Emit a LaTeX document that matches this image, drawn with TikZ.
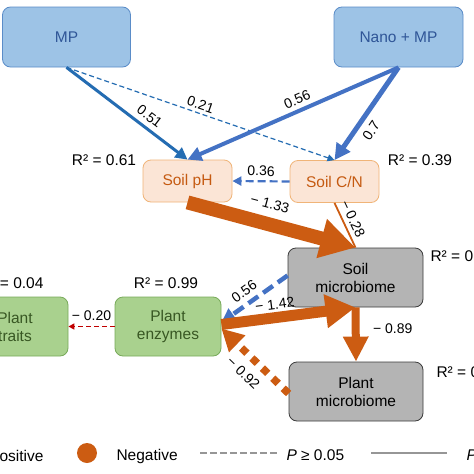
\documentclass[tikz,border=0pt]{standalone}
\usepackage{fontspec}
\setmainfont{Liberation Sans}
\usetikzlibrary{arrows.meta}
\definecolor{bluefill}{RGB}{157,195,230}
\definecolor{blueline}{RGB}{90,140,200}
\definecolor{bluetext}{RGB}{47,85,151}
\definecolor{mpblue}{RGB}{36,108,178}
\definecolor{nanoblue}{RGB}{68,114,196}
\definecolor{orangefill}{RGB}{251,229,214}
\definecolor{orangeline}{RGB}{240,180,120}
\definecolor{orangetext}{RGB}{197,90,17}
\definecolor{negorange}{RGB}{204,92,18}
\definecolor{grayfill}{RGB}{180,180,180}
\definecolor{grayline}{RGB}{60,60,60}
\definecolor{greenfill}{RGB}{169,209,142}
\definecolor{greenline}{RGB}{120,170,90}
\definecolor{greentext}{RGB}{56,87,35}
\definecolor{nsred}{RGB}{192,0,0}
\definecolor{keygray}{RGB}{150,150,150}
\begin{document}
\begin{tikzpicture}[x=1pt,y=-1pt,
        every node/.style={font=\fontsize{15.5}{18}\selectfont},
        box/.style={draw,rounded corners=8pt,align=center,inner sep=0pt,line width=0.8pt},
        bluebox/.style={box,fill=bluefill,draw=blueline,text=bluetext,minimum width=128pt,minimum height=60pt},
        orangebox/.style={box,fill=orangefill,draw=orangeline,text=orangetext,minimum width=89pt,minimum height=42pt},
        graybox/.style={box,fill=grayfill,draw=grayline,minimum width=135pt,minimum height=59pt},
        greenbox/.style={box,fill=greenfill,draw=greenline,text=greentext,minimum width=106pt,minimum height=59pt},
        lab/.style={font=\fontsize{14}{16}\selectfont,sloped,inner sep=2pt,text=black},
        rsq/.style={font=\fontsize{15.5}{18}\selectfont},
        tip/.style={-{Triangle[length=#1,width=#1]}}
    ]
        \useasboundingbox (0,0) rectangle (474,474);
        \fill[white] (0,0) rectangle (474,474);

        \node[bluebox] (mp) at (66.5,37) {MP};
        \node[bluebox,minimum width=129pt] (nano) at (398.5,37) {Nano + MP};
        \node[orangebox] (ph) at (187.5,181) {Soil pH};
        \node[orangebox] (cn) at (334.5,181.5) {Soil C/N};
        \node[graybox] (sm) at (355.5,277.5) {Soil\\microbiome};
        \node[greenbox] (pe) at (168,326.5) {Plant\\enzymes};
        \node[greenbox] (pt) at (15,326.5) {Plant\\traits};
        \node[graybox,minimum width=134pt] (pm) at (356,391.5) {Plant\\microbiome};

        \node[rsq] at (104,160) {R² = 0.61};
        \node[rsq] at (420,160) {R² = 0.39};
        \node[rsq,anchor=west] at (427,256) {R² = 0};
        \node[rsq,anchor=east] at (47,283) {R² = 0.04};
        \node[rsq] at (166,283) {R² = 0.99};
        \node[rsq,anchor=west] at (433,372) {R² = 0};

        \draw[mpblue,line width=1.2pt,dash pattern=on 5pt off 3pt,tip=7pt] (mp.south) -- (cn.north)
            node[lab,pos=0.49,above=1pt]{0.21};
        \draw[mpblue,line width=3pt,tip=12pt] (mp.south) -- (ph.north)
            node[lab,pos=0.63,above=3pt]{0.51};
        \draw[nanoblue,line width=4pt,tip=14pt] (nano.south) -- (ph.north)
            node[lab,pos=0.46,above=2pt]{0.56};
        \draw[nanoblue,line width=5pt,tip=16pt] (nano.south) -- (cn.north)
            node[lab,pos=0.6,below=4pt]{0.7};
        \draw[nanoblue,line width=2.2pt,dash pattern=on 8pt off 4pt,tip=9pt] (cn.west) -- (ph.east)
            node[lab,midway,above=2pt]{0.36};

        \draw[negorange,line width=1.8pt] (cn.south) -- (sm.north)
            node[lab,pos=0.45,above=2pt]{− 0.28};
        \draw[negorange,line width=14pt,-{Triangle[length=35pt,width=38pt]}] (ph.south) -- (sm.north)
            node[lab,pos=0.46,above=6pt]{− 1.33};
        \draw[nanoblue,line width=4.5pt,dash pattern=on 12pt off 6pt,tip=14pt] ([yshift=2pt]sm.west) -- ([yshift=4pt]pe.east)
            node[lab,pos=0.55,above=3pt]{0.56};
        \draw[negorange,line width=11pt,-{Triangle[length=30pt,width=32pt]}] ([yshift=2pt]pe.east) -- (sm.south)
            node[lab,pos=0.41,above=1pt]{− 1.42};
        \draw[negorange,line width=8pt,-{Triangle[length=25pt,width=24pt]}] (sm.south) -- (pm.north)
            node[pos=0.4,right=10pt,font=\fontsize{14}{16}\selectfont,text=black]{− 0.89};
        \draw[negorange,line width=7.5pt,dash pattern=on 7.5pt off 7pt,-{Triangle[length=22pt,width=22pt]}] ([yshift=-2pt]pm.west) -- ([yshift=-2pt]pe.east)
            node[lab,pos=0.5,below=6pt]{− 0.92};
        \draw[nsred,line width=1.5pt,dash pattern=on 5pt off 3pt,tip=6pt] (pe.west) -- (pt.east)
            node[lab,midway,above=3pt]{− 0.20};

        \node[anchor=east] at (47,456) {Positive};
        \fill[negorange] (87,453) circle (10);
        \node[anchor=west] at (113,456) {Negative};
        \draw[keygray,line width=2.5pt,dash pattern=on 7pt off 3pt] (200,453) -- (277,453);
        \node[anchor=west] at (283,455) {\textit{P} ≥ 0.05};
        \draw[keygray,line width=2.5pt] (371,453) -- (447,453);
        \node[anchor=west] at (463,455) {\textit{P}};
    \end{tikzpicture}
\end{document}
